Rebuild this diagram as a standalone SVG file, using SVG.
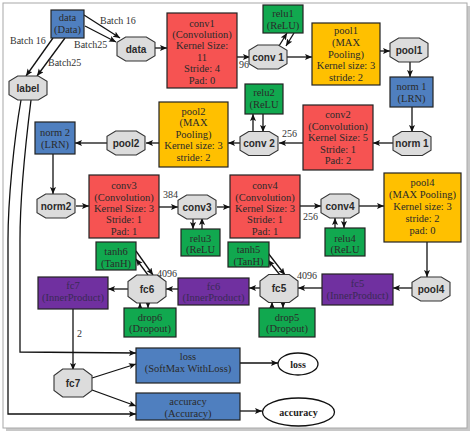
<svg xmlns="http://www.w3.org/2000/svg" xmlns:xlink="http://www.w3.org/1999/xlink" width="474" height="436" viewBox="0 0 474 436">
<style>
.bx{stroke:#222;stroke-width:1.2}
.blue{fill:#4F7FBF}
.red{fill:#F65352}
.yel{fill:#FFC000}
.grn{fill:#11A84F}
.pur{fill:#7030A0}
.oct{fill:#DCDCDC;stroke:#333;stroke-width:1.1}
.t{font-family:"Liberation Serif","Times New Roman",serif;font-size:10.5px;fill:#2a2a2a;text-anchor:middle}
.tp{fill:#3a2a55}
.ot{font-family:"Liberation Sans",Arial,sans-serif;font-size:10px;font-weight:bold;fill:#2a2a2a;text-anchor:middle}
.et{font-family:"Liberation Serif","Times New Roman",serif;font-size:10px;fill:#333}
.el{fill:#fff;stroke:#111;stroke-width:1.3}
.elt{font-family:"Liberation Serif","Times New Roman",serif;font-size:10px;font-weight:bold;fill:#222;text-anchor:middle}
#edges line,#edges path{stroke:#111;stroke-width:1.3;fill:none;marker-end:url(#ah)}
</style>
<defs>
<marker id="ah" markerUnits="userSpaceOnUse" markerWidth="8" markerHeight="7" refX="7" refY="3" orient="auto">
<path d="M0,0 L7,3 L0,6 L1.5,3 z" fill="#111"/>
</marker>
<polygon id="oct" points="-10.3,-12 10.3,-12 19,-6.7 19,6.7 10.3,12 -10.3,12 -19,6.7 -19,-6.7"/>
<polygon id="octT" points="-10.3,-14 10.3,-14 19,-7.5 19,7.5 10.3,14 -10.3,14 -19,7.5 -19,-7.5"/>
</defs>
<rect x="0" y="0" width="474" height="436" fill="#fff"/>
<rect x="6" y="6" width="464" height="425" fill="#c8c8c8"/>
<rect x="3" y="3" width="464" height="425" fill="#fff" stroke="#a8a8a8" stroke-width="1"/>

<g id="edges">
<line x1="84" y1="15" x2="120" y2="38"/>
<line x1="85" y1="26" x2="116" y2="42"/>
<line x1="53" y1="38" x2="26" y2="76"/>
<line x1="65" y1="38" x2="37" y2="76"/>
<line x1="155" y1="48" x2="167" y2="48"/>
<line x1="237" y1="57" x2="250" y2="57"/>
<line x1="279" y1="46" x2="287" y2="33"/>
<line x1="294" y1="33" x2="286" y2="46"/>
<line x1="287" y1="57" x2="312" y2="57"/>
<line x1="380" y1="51" x2="390" y2="51"/>
<line x1="410" y1="62" x2="410" y2="77"/>
<line x1="412" y1="107" x2="412" y2="132"/>
<line x1="393" y1="143" x2="373" y2="143"/>
<line x1="303" y1="143" x2="279" y2="143"/>
<line x1="253" y1="132" x2="253" y2="114"/>
<line x1="263" y1="114" x2="263" y2="132"/>
<line x1="240" y1="143" x2="228" y2="143"/>
<line x1="159" y1="143" x2="146" y2="143"/>
<line x1="107" y1="143" x2="75" y2="143"/>
<line x1="53" y1="154" x2="53" y2="194"/>
<line x1="76" y1="206" x2="89" y2="206"/>
<line x1="159" y1="207" x2="178" y2="207"/>
<line x1="193" y1="218" x2="193" y2="229"/>
<line x1="202" y1="229" x2="202" y2="218"/>
<line x1="217" y1="207" x2="230" y2="207"/>
<line x1="300" y1="206" x2="321" y2="206"/>
<line x1="335" y1="228" x2="335" y2="218"/>
<line x1="344" y1="218" x2="344" y2="228"/>
<line x1="358" y1="206" x2="384" y2="206"/>
<line x1="427" y1="242" x2="427" y2="277"/>
<line x1="412" y1="288" x2="393" y2="288"/>
<line x1="322" y1="288" x2="298" y2="288"/>
<line x1="268" y1="253" x2="285" y2="275"/>
<line x1="280" y1="275" x2="268" y2="260"/>
<line x1="272" y1="308" x2="272" y2="302"/>
<line x1="283" y1="302" x2="283" y2="308"/>
<line x1="260" y1="288" x2="249" y2="288"/>
<line x1="178" y1="289" x2="166" y2="289"/>
<line x1="136" y1="251" x2="153" y2="275"/>
<line x1="148" y1="275" x2="136" y2="259"/>
<line x1="140" y1="308" x2="140" y2="303"/>
<line x1="148" y1="303" x2="148" y2="308"/>
<line x1="128" y1="289" x2="108" y2="289"/>
<line x1="73" y1="309" x2="73" y2="370"/>
<line x1="92" y1="378" x2="136" y2="364"/>
<line x1="92" y1="390" x2="136" y2="406"/>
<line x1="240" y1="363" x2="278" y2="363"/>
<line x1="240" y1="411" x2="262" y2="411"/>
<path d="M31,100 C26,140 20,200 20,240 L20,352 L136,353"/>
<path d="M21,100 C14,140 8,200 8,240 L8,414 L136,414"/>
<text class="et" x="100" y="24">Batch 16</text>
<text class="et" x="10" y="44">Batch 16</text>
<text class="et" x="74" y="48">Batch25</text>
<text class="et" x="48" y="66">Batch25</text>
<text class="et" x="239" y="68">96</text>
<text class="et" x="282" y="137">256</text>
<text class="et" x="163" y="198">384</text>
<text class="et" x="303" y="220">256</text>
<text class="et" x="297" y="279">4096</text>
<text class="et" x="157" y="277">4096</text>
<text class="et" x="77" y="337">2</text>
</g>

<g id="node-data-box"><rect class="bx blue" x="51" y="10" width="33" height="28"/>
<text class="t" x="67.5" y="21">data</text><text class="t" x="67.5" y="33">(Data)</text></g>
<g id="node-data"><use href="#oct" class="oct" transform="translate(136,49)"/><text class="ot" x="136" y="52.5">data</text></g>
<g id="node-label"><use href="#oct" class="oct" transform="translate(28,88)"/><text class="ot" x="28" y="91.5">label</text></g>

<g id="node-conv1-box"><rect class="bx red" x="167" y="13" width="70" height="75"/>
<text class="t" x="202" y="26.5">conv1</text><text class="t" x="202" y="37.5">(Convolution)</text><text class="t" x="202" y="48.5">Kernel Size:</text><text class="t" x="202" y="60.5">11</text><text class="t" x="202" y="72">Stride: 4</text><text class="t" x="202" y="83.5">Pad: 0</text></g>
<g id="node-conv1"><use href="#oct" class="oct" transform="translate(268,57)"/><text class="ot" x="268" y="60.5">conv 1</text></g>
<g id="node-relu1"><rect class="bx grn" x="263" y="5" width="40" height="28"/>
<text class="t" x="283" y="17">relu1</text><text class="t" x="283" y="29">(ReLU)</text></g>

<g id="node-pool1-box"><rect class="bx yel" x="312" y="23" width="68" height="62"/>
<text class="t" x="346" y="34">pool1</text><text class="t" x="346" y="46">(MAX</text><text class="t" x="346" y="57.5">Pooling)</text><text class="t" x="346" y="69">Kernel size: 3</text><text class="t" x="346" y="81">stride: 2</text></g>
<g id="node-pool1"><use href="#oct" class="oct" transform="translate(409,50)"/><text class="ot" x="409" y="53.5">pool1</text></g>
<g id="node-norm1-box"><rect class="bx blue" x="390" y="77" width="43" height="30"/>
<text class="t" x="411.5" y="90">norm 1</text><text class="t" x="411.5" y="102">(LRN)</text></g>
<g id="node-norm1"><use href="#oct" class="oct" transform="translate(412,143.5)"/><text class="ot" x="412" y="147">norm 1</text></g>

<g id="node-conv2-box"><rect class="bx red" x="303" y="105" width="70" height="65"/>
<text class="t" x="338" y="118">conv2</text><text class="t" x="338" y="129.5">(Convolution)</text><text class="t" x="338" y="141">Kernel Size: 5</text><text class="t" x="338" y="152.5">Stride: 1</text><text class="t" x="338" y="164">Pad: 2</text></g>
<g id="node-conv2"><use href="#oct" class="oct" transform="translate(259,143.5)"/><text class="ot" x="259" y="147">conv 2</text></g>
<g id="node-relu2"><rect class="bx grn" x="245" y="84" width="38" height="30"/>
<text class="t" x="264" y="95.5">relu2</text><text class="t" x="264" y="107.5">(ReLU</text></g>

<g id="node-pool2-box"><rect class="bx yel" x="159" y="102" width="69" height="65"/>
<text class="t" x="193.5" y="115">pool2</text><text class="t" x="193.5" y="126">(MAX</text><text class="t" x="193.5" y="137.5">Pooling)</text><text class="t" x="193.5" y="149">Kernel size: 3</text><text class="t" x="193.5" y="161">stride: 2</text></g>
<g id="node-pool2"><use href="#oct" class="oct" transform="translate(126,143)"/><text class="ot" x="126" y="146.5">pool2</text></g>
<g id="node-norm2-box"><rect class="bx blue" x="35" y="122" width="40" height="32"/>
<text class="t" x="55" y="136">norm 2</text><text class="t" x="55" y="147.5">(LRN)</text></g>
<g id="node-norm2"><use href="#oct" class="oct" transform="translate(56,206)"/><text class="ot" x="56" y="209.5">norm2</text></g>

<g id="node-conv3-box"><rect class="bx red" x="89" y="175" width="70" height="63"/>
<text class="t" x="124" y="189">conv3</text><text class="t" x="124" y="200.5">(Convolution)</text><text class="t" x="124" y="211.5">Kernel Size: 3</text><text class="t" x="124" y="223">Stride: 1</text><text class="t" x="124" y="235">Pad: 1</text></g>
<g id="node-conv3"><use href="#oct" class="oct" transform="translate(197,207)"/><text class="ot" x="197" y="210.5">conv3</text></g>
<g id="node-relu3"><rect class="bx grn" x="181" y="229" width="39" height="27"/>
<text class="t" x="200.5" y="241.5">relu3</text><text class="t" x="200.5" y="252.5">(ReLU</text></g>

<g id="node-conv4-box"><rect class="bx red" x="230" y="175" width="70" height="63"/>
<text class="t" x="265" y="189">conv4</text><text class="t" x="265" y="200.5">(Convolution)</text><text class="t" x="265" y="211.5">Kernel Size: 3</text><text class="t" x="265" y="223">Stride: 1</text><text class="t" x="265" y="235">Pad: 1</text></g>
<g id="node-conv4"><use href="#oct" class="oct" transform="translate(340,206)"/><text class="ot" x="340" y="209.5">conv4</text></g>
<g id="node-relu4"><rect class="bx grn" x="325" y="228" width="40" height="28"/>
<text class="t" x="345" y="241.5">relu4</text><text class="t" x="345" y="252.5">(ReLU</text></g>

<g id="node-pool4-box"><rect class="bx yel" x="384" y="173" width="77" height="69"/>
<text class="t" x="422.5" y="186">pool4</text><text class="t" x="422.5" y="197.5">(MAX Pooling)</text><text class="t" x="422.5" y="210">Kernel size: 3</text><text class="t" x="422.5" y="222">stride: 2</text><text class="t" x="422.5" y="233.5">pad: 0</text></g>
<g id="node-pool4"><use href="#oct" class="oct" transform="translate(431,289)"/><text class="ot" x="431" y="292.5">pool4</text></g>

<g id="node-fc5-box"><rect class="bx pur" x="322" y="274" width="71" height="31"/>
<text class="t tp" x="357.5" y="287">fc5</text><text class="t tp" x="357.5" y="298.5">(InnerProduct)</text></g>
<g id="node-fc5"><use href="#octT" class="oct" transform="translate(279,288.5)"/><text class="ot" x="279" y="292">fc5</text></g>
<g id="node-tanh5"><rect class="bx grn" x="228" y="242" width="41" height="25"/>
<text class="t" x="248.5" y="253">tanh5</text><text class="t" x="248.5" y="264.5">(TanH)</text></g>
<g id="node-drop5"><rect class="bx grn" x="259" y="308" width="56" height="29"/>
<text class="t" x="287" y="320.5">drop5</text><text class="t" x="287" y="332">(Dropout)</text></g>

<g id="node-fc6-box"><rect class="bx pur" x="178" y="278" width="71" height="27"/>
<text class="t tp" x="213.5" y="290">fc6</text><text class="t tp" x="213.5" y="301">(InnerProduct)</text></g>
<g id="node-fc6"><use href="#octT" class="oct" transform="translate(147,289)"/><text class="ot" x="147" y="292.5">fc6</text></g>
<g id="node-tanh6"><rect class="bx grn" x="96" y="242" width="40" height="28"/>
<text class="t" x="116" y="255">tanh6</text><text class="t" x="116" y="266.5">(TanH)</text></g>
<g id="node-drop6"><rect class="bx grn" x="124" y="308" width="52" height="29"/>
<text class="t" x="150" y="320.5">drop6</text><text class="t" x="150" y="332">(Dropout)</text></g>

<g id="node-fc7-box"><rect class="bx pur" x="38" y="277" width="70" height="32"/>
<text class="t tp" x="73" y="289">fc7</text><text class="t tp" x="73" y="300.5">(InnerProduct)</text></g>
<g id="node-fc7"><use href="#octT" class="oct" transform="translate(73,383)"/><text class="ot" x="73" y="386.5">fc7</text></g>

<g id="node-loss-box"><rect class="bx blue" x="136" y="348" width="104" height="35"/>
<text class="t" x="188" y="360">loss</text><text class="t" x="188" y="372">(SoftMax WithLoss)</text></g>
<g id="node-accuracy-box"><rect class="bx blue" x="136" y="393" width="104" height="27"/>
<text class="t" x="188" y="405">accuracy</text><text class="t" x="188" y="416.5">(Accuracy)</text></g>
<g id="node-loss"><ellipse class="el" cx="298" cy="364" rx="20" ry="11"/><text class="elt" x="298" y="367.5">loss</text></g>
<g id="node-accuracy"><ellipse class="el" cx="298.5" cy="412" rx="36" ry="14"/><text class="elt" x="298.5" y="415.5">accuracy</text></g>
</svg>
